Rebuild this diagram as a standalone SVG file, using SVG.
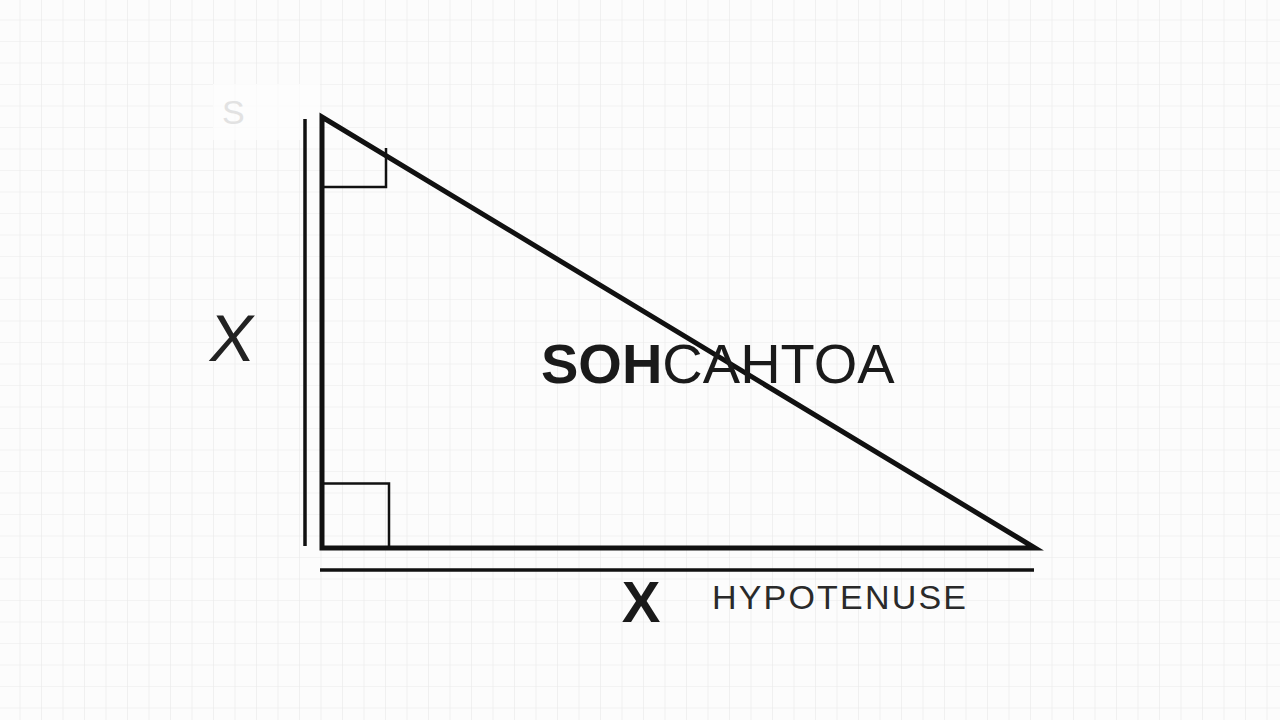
<svg xmlns="http://www.w3.org/2000/svg" width="1280" height="720" viewBox="0 0 1280 720">
<defs>
<pattern id="grid" width="21.5" height="21.5" patternUnits="userSpaceOnUse" x="-1" y="-1">
<path d="M21.5 0V21.5M0 21.5H21.5" fill="none" stroke="#e9e9e9" stroke-width="1.2"/>
</pattern>
<style>
.thick{fill:none;stroke:#111;stroke-width:5;stroke-linejoin:miter}
.thin{fill:none;stroke:#111;stroke-width:2.5}
.lbl{font-family:"Liberation Sans",Arial,sans-serif;fill:#1a1a1a}
</style>
</defs>
<rect width="1280" height="720" fill="#fcfcfc"/>
<rect width="1280" height="720" fill="url(#grid)"/>
<g id="faint-label">
<rect x="213" y="84" width="107" height="56" fill="#fdfdfd" opacity="0.8"/>
<text class="lbl" x="222" y="124" font-size="34" style="fill:#e2e2e2">S</text>
</g>
<g id="triangle">
<path class="thick" d="M322 117 L322 548 L1035 548 Z"/>
<path class="thin" d="M324 187 H386 V148"/>
<path class="thin" d="M324 483.5 H389 V548"/>
</g>
<g id="connectors">
<line x1="305" y1="119" x2="305" y2="546" stroke="#111" stroke-width="3.5"/>
<line x1="320" y1="570" x2="1034" y2="570" stroke="#111" stroke-width="3.5"/>
</g>
<g id="label-x-left">
<text class="lbl" x="229" y="361" font-size="66" text-anchor="middle" transform="translate(51 0) skewX(-8)" style="fill:#222">X</text>
</g>
<g id="label-sohcahtoa">
<text class="lbl" x="541" y="383" font-size="56"><tspan font-weight="bold">SOH</tspan><tspan>CAHTOA</tspan></text>
</g>
<g id="label-x-bottom">
<text class="lbl" x="641" y="622" font-size="58" font-weight="bold" text-anchor="middle">X</text>
</g>
<g id="label-hypotenuse">
<text class="lbl" x="712" y="609" font-size="34" letter-spacing="2" textLength="256" style="fill:#2a2a2a">HYPOTENUSE</text>
</g>
</svg>
